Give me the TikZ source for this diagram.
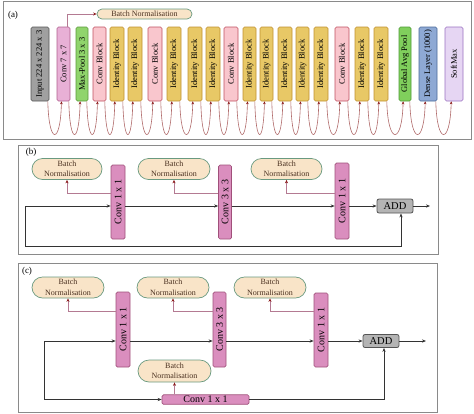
\documentclass[tikz,border=0pt]{standalone}
\usepackage{fontspec}
\setmainfont{Liberation Serif}
\usetikzlibrary{arrows.meta,calc}
\definecolor{inpF}{HTML}{A0A0A0}\definecolor{inpD}{HTML}{555555}
\definecolor{cvF}{HTML}{E8B0D6}\definecolor{cvD}{HTML}{B0608F}
\definecolor{mpF}{HTML}{90D46C}\definecolor{mpD}{HTML}{5A9A3A}
\definecolor{cbF}{HTML}{F9C6CD}\definecolor{cbD}{HTML}{C05060}
\definecolor{ibF}{HTML}{E8C866}\definecolor{ibD}{HTML}{C09030}
\definecolor{gpF}{HTML}{80CF5C}\definecolor{gpD}{HTML}{4D9A35}
\definecolor{dnF}{HTML}{8EA9D4}\definecolor{dnD}{HTML}{4A6A9A}
\definecolor{smF}{HTML}{E6D6F3}\definecolor{smD}{HTML}{9A70C0}
\definecolor{bnF}{HTML}{F9E4C8}\definecolor{bnD}{HTML}{6A9A80}
\definecolor{bnT}{HTML}{4A3020}
\definecolor{ccF}{HTML}{DA8EBE}\definecolor{ccD}{HTML}{A0507A}
\definecolor{adF}{HTML}{B4B4B4}\definecolor{adD}{HTML}{555555}
\definecolor{loopC}{HTML}{B06A6A}\definecolor{tipC}{HTML}{8B1A1A}
\definecolor{feedC}{HTML}{B47A92}\definecolor{frameC}{HTML}{8A8A8A}
\definecolor{mainC}{HTML}{333333}
\begin{document}
\begin{tikzpicture}[x=1pt,y=-1pt,
  abox/.style={draw, line width=0.6pt, rounded corners=1.5pt, inner sep=0pt,
    minimum height=74pt, font=\fontsize{8.5}{9}\selectfont},
  inp/.style={fill=inpF, draw=inpD},
  cv7/.style={fill=cvF, draw=cvD},
  mp/.style={fill=mpF, draw=mpD},
  cb/.style={fill=cbF, draw=cbD},
  ib/.style={fill=ibF, draw=ibD},
  gap/.style={fill=gpF, draw=gpD},
  dns/.style={fill=dnF, draw=dnD},
  sm/.style={fill=smF, draw=smD},
  bnpill/.style={draw=bnD, fill=bnF, line width=0.7pt, inner sep=0pt,
    text=bnT, align=center, font=\fontsize{8}{10.5}\selectfont},
  cconv/.style={draw=ccD, fill=ccF, line width=0.7pt, rounded corners=1.5pt,
    inner sep=0pt, font=\fontsize{10}{11}\selectfont},
  addbox/.style={draw=adD, fill=adF, line width=0.8pt, rounded corners=2pt,
    inner sep=0pt, minimum width=36pt, font=\fontsize{10.5}{11}\selectfont},
  aloop/.style={draw=loopC, line width=0.6pt, -{Stealth[length=3pt,width=2.6pt,color=tipC]}},
  feed/.style={draw=feedC, line width=0.7pt, -{Stealth[length=3.5pt,width=3pt,color=tipC]}},
  mainln/.style={draw=mainC, line width=0.7pt},
  mainarr/.style={mainln, -{Stealth[length=4pt,width=3.2pt]}},
  frame/.style={draw=frameC, line width=0.9pt},
  plabel/.style={font=\fontsize{9}{10}\selectfont, inner sep=0pt}
]
\useasboundingbox (0,0) rectangle (474,413);
% ---------- panel frames ----------
\draw[frame] (3,1) rectangle (471,139);
\draw[frame] (18,145) rectangle (438,254);
\draw[frame] (18,263) rectangle (437,412);
\node[plabel] (la) at (13,15) {(a)};
\node[plabel] (lb) at (31,152) {(b)};
\node[plabel] (lc) at (27,271) {(c)};
% ---------- panel (a) ----------
\foreach \n/\cx/\w/\st/\t in {
 1/40/18/inp/{Input 224 x 224 x 3},
 2/63.5/13/cv7/{Conv 7 x 7},
 3/82/12/mp/{Max-Pool 3 x 3},
 4/99.5/13/cb/{Conv Block},
 5/117/14/ib/{Identity Block},
 6/135/14/ib/{Identity Block},
 7/155/14/cb/{Conv Block},
 8/174/14/ib/{Identity Block},
 9/195/14/ib/{Identity Block},
 10/213/14/ib/{Identity Block},
 11/231/14/cb/{Conv Block},
 12/249.5/13/ib/{Identity Block},
 13/266.5/13/ib/{Identity Block},
 14/285/14/ib/{Identity Block},
 15/302.5/13/ib/{Identity Block},
 16/321/14/ib/{Identity Block},
 17/342/14/cb/{Conv Block},
 18/362/14/ib/{Identity Block},
 19/381/14/ib/{Identity Block},
 20/405/12/gap/{Global Avg Pool},
 21/428/18/dns/{Dense Layer (1000)},
 22/454/18/sm/{SoftMax}}
 {\node[abox,\st,minimum width=\w pt] (a\n) at (\cx,64) {\rotatebox{90}{\t}};}
\foreach \i in {1,...,21}{
  \pgfmathtruncatemacro\j{\i+1}
  \draw[aloop] ([xshift=-1.5pt]a\i.south east) .. controls +(1,44) and +(-1,44) ..
     ($(a\j.south west)!0.35!(a\j.south east)$);
}
\node[bnpill, rounded corners=5pt, minimum width=95pt, minimum height=10pt] (bnA) at (144.5,14) {Batch Normalisation};
\draw[feed] ([xshift=3.5pt]a2.north) |- (bnA.west);
% ---------- panel (b) ----------
\node[bnpill, rounded corners=10.5pt, minimum width=70pt, minimum height=21pt] (bnb1) at (67,169) {Batch\\Normalisation};
\node[bnpill, rounded corners=10.5pt, minimum width=72pt, minimum height=21pt] (bnb2) at (174,169) {Batch\\Normalisation};
\node[bnpill, rounded corners=10.5pt, minimum width=71pt, minimum height=21pt] (bnb3) at (286.5,169) {Batch\\Normalisation};
\node[cconv, minimum width=14pt, minimum height=74pt] (cb1) at (118,202) {\rotatebox{90}{Conv 1 x 1}};
\node[cconv, minimum width=13pt, minimum height=74pt] (cb2) at (225,202) {\rotatebox{90}{Conv 3 x 3}};
\node[cconv, minimum width=14pt, minimum height=76pt] (cb3) at (342,201) {\rotatebox{90}{Conv 1 x 1}};
\node[addbox, minimum height=14pt] (addb) at (395,206) {ADD};
\coordinate (bin) at (25,206);
\coordinate (bsk) at (25,246);
\coordinate (bout) at (430,206);
\draw[mainarr] (bin) -- (bin -| cb1.west);
\draw[mainarr] (bin -| cb1.east) -- (bin -| cb2.west);
\draw[mainarr] (bin -| cb2.east) -- (bin -| cb3.west);
\draw[mainarr] (bin -| cb3.east) -- (addb.west);
\draw[mainarr] (addb.east) -- (bout);
\draw[mainarr] (bin) -- (bsk) -| ([xshift=6pt]addb.south);
\draw[feed] (cb1.west |- 0,193) -| (bnb1.south);
\draw[feed] (cb2.west |- 0,193) -| (bnb2.south);
\draw[feed] (cb3.west |- 0,193) -| (bnb3.south);
% ---------- panel (c) ----------
\node[bnpill, rounded corners=10.5pt, minimum width=72pt, minimum height=21pt] (bnc1) at (68,287.5) {Batch\\Normalisation};
\node[bnpill, rounded corners=10.5pt, minimum width=72pt, minimum height=21pt] (bnc2) at (173,287.5) {Batch\\Normalisation};
\node[bnpill, rounded corners=10.5pt, minimum width=72pt, minimum height=21pt] (bnc3) at (270,287.5) {Batch\\Normalisation};
\node[bnpill, rounded corners=11pt, minimum width=73pt, minimum height=22pt] (bnc4) at (174.5,371) {Batch\\Normalisation};
\node[cconv, minimum width=14pt, minimum height=75pt] (cc1) at (123,329.5) {\rotatebox{90}{Conv 1 x 1}};
\node[cconv, minimum width=13pt, minimum height=75pt] (cc2) at (219.5,329.5) {\rotatebox{90}{Conv 3 x 3}};
\node[cconv, minimum width=14pt, minimum height=74pt] (cc3) at (321,330) {\rotatebox{90}{Conv 1 x 1}};
\node[cconv, minimum width=87pt, minimum height=9.5pt] (cc4) at (205.5,399.5) {Conv 1 x 1};
\node[addbox, minimum height=13pt] (addc) at (381,341) {ADD};
\coordinate (cin) at (44,341);
\coordinate (csk) at (44,399.5);
\coordinate (cout) at (426,341);
\draw[mainarr] (cin) -- (cin -| cc1.west);
\draw[mainarr] (cin -| cc1.east) -- (cin -| cc2.west);
\draw[mainarr] (cin -| cc2.east) -- (cin -| cc3.west);
\draw[mainarr] (cin -| cc3.east) -- (addc.west);
\draw[mainarr] (addc.east) -- (cout);
\draw[mainarr] (cin) -- (csk) -- (cc4.west);
\draw[mainarr] (cc4.east) -| ([xshift=3pt]addc.south);
\draw[feed] (cc1.west |- 0,311) -| (bnc1.south);
\draw[feed] (cc2.west |- 0,311) -| (bnc2.south);
\draw[feed] (cc3.west |- 0,311) -| (bnc3.south);
\draw[feed] (bnc4.south |- cc4.north) -- (bnc4.south);
\end{tikzpicture}
\end{document}
